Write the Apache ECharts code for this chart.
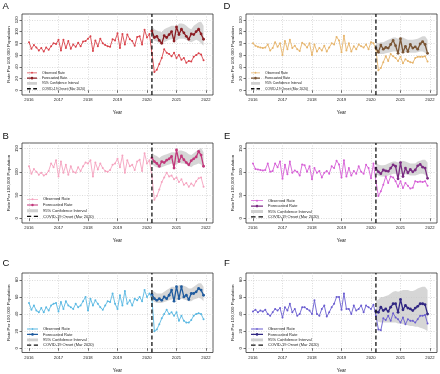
<!DOCTYPE html>
<html><head><meta charset="utf-8">
<script src="https://cdn.jsdelivr.net/npm/echarts@6/dist/echarts.min.js"></script>
<style>html,body{margin:0;padding:0;background:#fff}#c{width:440px;height:374px}</style>
</head><body><div id="c"></div>
<script>
// ---------- data ----------
const yearTicks = [2016, 2017, 2018, 2019, 2020, 2021, 2022];
const startYear = 2016;
const forecastStartIndex = 50; // Mar 2020
const onsetYear = 2020 + 2 / 12;
const legendLabels = ['Observed Rate', 'Forecasted Rate', '95% Confidence Interval', 'COVID-19 Onset (Mar 2020)'];
const yTicks120 = [0, 20, 40, 60, 80, 100, 120];
const yTicks150 = [0, 50, 100, 150];
const yTicks80 = [0, 20, 40, 60, 80];

const obsA = [82,71,77,73,68,72,66,73,69,75,80,79, 86,68,86,72,84,71,78,74,81,75,83,84,
  88,92,67,85,75,88,80,77,75,74,87,85, 97,72,96,78,95,87,84,76,91,92,78,103,
  90,96,63,31,35,45,55,70,64,62,58,64, 55,60,52,55,47,50,49,57,60,63,61,51];
const fcA = [101,90,92,85,80,93,90,95,100,84,108,95,104,98,92,87,96,95,100,104,96,87];
const loA = [90,84,83,80,79,82,84,86,87,86,85,88,88,88,86,83,82,84,86,84,80,76];
const hiA = [110,104,102,100,99,104,106,108,110,110,108,114,114,113,110,106,104,110,113,116,117,110];

const obsB = [112,96,106,100,94,98,92,95,102,118,110,125, 90,122,98,115,94,112,100,98,110,102,112,120,
  118,125,90,120,105,118,108,102,100,104,115,118, 128,110,135,98,125,112,115,104,122,126,102,140,
  118,125,90,40,48,62,78,88,98,90,92,84, 88,78,84,72,76,68,75,70,80,86,88,68];
const fcB = [130,122,118,112,122,120,125,128,133,108,147,122,134,126,120,115,124,128,132,144,136,112];
const loB = [118,112,110,108,110,112,114,116,118,116,115,120,118,118,116,112,110,114,116,118,116,108];
const hiB = [142,136,134,130,134,136,138,140,142,142,140,146,146,144,142,138,136,140,144,148,152,142];

const obsC = [53,45,50,44,42,47,42,48,44,50,52,53, 43,54,46,55,50,48,46,52,48,50,55,60,
  44,58,50,56,52,48,45,50,55,54,64,52, 46,62,50,67,52,56,50,58,56,60,55,68,
  60,64,58,20,22,28,35,40,45,40,42,38, 42,32,38,32,30,30,33,38,40,41,40,34];
const fcC = [63,58,56,58,56,60,58,62,68,55,72,58,72,60,62,57,64,64,66,70,68,62];
const loC = [56,54,53,53,53,54,55,56,57,57,56,58,58,57,56,55,55,57,58,59,58,55];
const hiC = [68,66,64,64,64,66,68,70,72,72,70,74,74,73,72,70,70,72,74,76,76,72];

const obsD = [80,76,74,73,72,73,78,68,72,82,74,80, 60,84,70,86,72,76,70,67,81,78,73,80,
  60,78,66,72,68,76,66,73,80,78,91,85, 65,93,68,80,66,75,70,78,75,73,78,70,
  82,80,70,34,38,48,58,50,62,58,55,50, 57,46,53,50,48,47,55,57,57,57,58,49];
const fcD = [72,65,77,70,73,72,78,85,76,63,88,65,75,66,78,72,74,70,79,83,78,63];
const loD = [64,62,62,62,63,64,65,66,66,65,66,66,65,64,64,64,64,65,66,66,64,60];
const hiD = [82,80,82,82,84,86,88,90,90,88,90,90,88,86,86,86,87,88,90,92,92,86];

const obsE = [118,106,105,104,103,104,118,100,102,118,110,122, 85,115,95,122,98,103,100,92,116,114,100,112,
  84,108,98,102,88,98,102,96,112,108,124,116, 88,125,90,108,92,102,96,112,100,96,115,108,
  86,118,80,48,58,72,90,76,90,88,80,68, 80,65,76,70,64,66,80,78,79,78,80,70];
const fcE = [108,100,96,104,102,101,108,115,112,85,120,90,108,98,105,100,104,113,116,110,108,86];
const loE = [95,92,90,90,90,92,94,96,96,94,95,96,95,94,92,92,92,94,96,96,94,88];
const hiE = [120,116,114,114,115,118,120,122,122,120,122,124,122,120,118,118,118,122,124,126,126,120];

const obsF = [43,45,42,44,43,45,40,38,42,46,44,47, 36,48,44,52,42,46,38,40,48,48,46,44,
  40,56,40,38,46,50,37,42,48,52,60,60, 45,64,46,46,40,50,44,46,50,42,50,48,
  46,51,38,22,21,35,33,38,32,41,36,34, 30,36,28,34,32,32,30,34,38,38,39,29];
const fcF = [43,42,48,44,46,43,48,52,52,42,57,45,50,47,46,44,47,49,52,52,51,40];
const loF = [33,31,30,30,30,30,30,30,30,29,29,28,28,27,26,26,25,25,24,23,22,20];
const hiF = [55,57,60,60,61,62,64,66,67,66,67,68,68,68,67,67,68,70,71,72,72,68];

// ---------- layout / style ----------
const FONT = 'Liberation Sans, Arial, sans-serif';
const bandColor = 'rgba(200,200,200,0.75)';
const panels = [
  {L:'A', grid:{left:22,top:14,width:191,height:81}, yMin:-8, yMax:130, yt:yTicks120, obs:obsA, fc:fcA, lo:loA, hi:hiA,
   c1:'#d9434b', c2:'#8b1e24', title:{left:2.5,top:1.5}, leg:{left:27,top:70.2,w:10,fs:3.4,lh:5.3}},
  {L:'B', grid:{left:22,top:143,width:191,height:80}, yMin:-10, yMax:162, yt:yTicks150, obs:obsB, fc:fcB, lo:loB, hi:hiB,
   c1:'#f5a3bf', c2:'#c2377b', title:{left:2.5,top:131}, leg:{left:27,top:196.5,w:11,fs:4,lh:5.7}},
  {L:'C', grid:{left:22,top:273,width:191,height:80}, yMin:-5, yMax:88, yt:yTicks80, obs:obsC, fc:fcC, lo:loC, hi:hiC,
   c1:'#5ab8e2', c2:'#1f5b9e', title:{left:2.5,top:258.5}, leg:{left:27,top:326.3,w:11,fs:4,lh:5.4}},
  {L:'D', grid:{left:246,top:14,width:191,height:81}, yMin:-8, yMax:130, yt:yTicks120, obs:obsD, fc:fcD, lo:loD, hi:hiD,
   c1:'#e6b46b', c2:'#7a5534', title:{left:223.5,top:1.5}, leg:{left:251,top:70.2,w:9,fs:3.4,lh:5.3}},
  {L:'E', grid:{left:246,top:143,width:191,height:80}, yMin:-10, yMax:162, yt:yTicks150, obs:obsE, fc:fcE, lo:loE, hi:hiE,
   c1:'#d65fd6', c2:'#7b2b82', title:{left:224,top:131.5}, leg:{left:251,top:198,w:12,fs:4,lh:5.4}},
  {L:'F', grid:{left:246,top:273,width:191,height:80}, yMin:-5, yMax:88, yt:yTicks80, obs:obsF, fc:fcF, lo:loF, hi:hiF,
   c1:'#6a5dd0', c2:'#312783', title:{left:224,top:258.5}, leg:{left:251,top:326.3,w:12,fs:4,lh:5.4}}
];

const monthX = i => startYear + i / 12;

// legend icon shapes (drawn in a W x 4 box; corner specks fix the box size)
function boxMarks(W) { return 'M0,0h0.01v0.01h-0.01z M' + W + ',4h-0.01v-0.01h0.01z '; }
function lineDotIcon(W, lw, r) {
  const c = W / 2;
  return 'path://' + boxMarks(W) +
    'M0,' + (2 - lw / 2) + 'h' + W + 'v' + lw + 'h-' + W + 'z ' +
    'M' + (c + r) + ',2 A' + r + ',' + r + ' 0 1,1 ' + (c - r) + ',2 A' + r + ',' + r + ' 0 1,1 ' + (c + r) + ',2z';
}
function dashIcon(W) {
  const d = W * 0.38;
  return 'path://' + boxMarks(W) +
    'M0,1.35h' + d + 'v1.3h-' + d + 'z M' + (W - d) + ',1.35h' + d + 'v1.3h-' + d + 'z';
}
function bandIcon(W) {
  return 'path://' + boxMarks(W) + 'M0,0.6h' + W + 'v2.8h-' + W + 'z';
}

const option = {
  animation: false,
  backgroundColor: '#fff',
  textStyle: {fontFamily: FONT},
  title: [], grid: [], xAxis: [], yAxis: [], legend: [], series: []
};

panels.forEach((p, k) => {
  option.title.push({text: p.L, left: p.title.left, top: p.title.top, padding: 0,
    textStyle: {fontSize: 9.5, fontWeight: 'normal', color: '#111', fontFamily: FONT}});
  option.grid.push(Object.assign({show: true, borderColor: '#333', borderWidth: 0.8, backgroundColor: 'transparent', containLabel: false}, p.grid));
  option.xAxis.push({
    type: 'value', gridIndex: k, min: 2015.763, max: 2022.237,
    axisLine: {show: false},
    axisTick: {show: true, customValues: yearTicks, length: 2.5, lineStyle: {color: '#333', width: 0.7}},
    axisLabel: {customValues: yearTicks, formatter: v => String(Math.round(v)), fontSize: 4.2, color: '#222', margin: 3, fontFamily: FONT},
    splitLine: {show: true, lineStyle: {type: [1, 1.5], color: '#c4c4c4', width: 0.6}},
    name: 'Year', nameLocation: 'middle', nameGap: 15.5,
    nameTextStyle: {fontSize: 4.6, color: '#222', fontFamily: FONT}
  });
  option.yAxis.push({
    type: 'value', gridIndex: k, min: p.yMin, max: p.yMax,
    axisLine: {show: false},
    axisTick: {show: true, customValues: p.yt, length: 2.5, lineStyle: {color: '#333', width: 0.7}},
    axisLabel: {customValues: p.yt, formatter: v => String(Math.round(v)), rotate: 90, fontSize: 4.2, color: '#222', margin: 3, fontFamily: FONT},
    splitLine: {show: true, lineStyle: {type: [1, 1.5], color: '#c4c4c4', width: 0.6}},
    name: 'Rate Per 100,000 Population', nameLocation: 'middle', nameGap: 11.5,
    nameTextStyle: {fontSize: 4.4, color: '#222', fontFamily: FONT}
  });
  const nm = legendLabels.map(s => p.L + '|' + s);
  const bandData = p.fc.map((v, i) => [monthX(forecastStartIndex + i), p.lo[i], p.hi[i]]);
  option.series.push({
    name: nm[2], type: 'custom', xAxisIndex: k, yAxisIndex: k, z: 1, silent: true,
    itemStyle: {color: bandColor},
    data: bandData, encode: {x: 0, y: [1, 2]},
    renderItem: (params, api) => {
      if (params.dataIndex !== 0) return null;
      const top = bandData.map(d => api.coord([d[0], d[2]]));
      const bot = bandData.map(d => api.coord([d[0], d[1]])).reverse();
      return {type: 'polygon', shape: {points: top.concat(bot)}, style: {fill: bandColor}};
    }
  });
  option.series.push({
    name: nm[0], type: 'line', xAxisIndex: k, yAxisIndex: k, z: 3,
    data: p.obs.map((v, i) => [monthX(i), v]),
    symbol: 'circle', symbolSize: 2, showSymbol: true,
    itemStyle: {color: p.c1}, lineStyle: {color: p.c1, width: 0.9}
  });
  option.series.push({
    name: nm[1], type: 'line', xAxisIndex: k, yAxisIndex: k, z: 4,
    data: p.fc.map((v, i) => [monthX(forecastStartIndex + i), v]),
    symbol: 'circle', symbolSize: 2.8, showSymbol: true,
    itemStyle: {color: p.c2}, lineStyle: {color: p.c2, width: 1.3}
  });
  option.series.push({
    name: nm[3], type: 'line', xAxisIndex: k, yAxisIndex: k, z: 5,
    data: [[onsetYear, p.yMin], [onsetYear, p.yMax]],
    symbol: 'none', itemStyle: {color: '#111'},
    lineStyle: {color: '#111', width: 1.3, type: [4, 2.5]}
  });
  const W = p.leg.w;
  option.legend.push({
    orient: 'vertical', left: p.leg.left, top: p.leg.top, padding: 0,
    itemWidth: W, itemHeight: 4, itemGap: 0, selectedMode: false,
    textStyle: {fontSize: p.leg.fs, lineHeight: p.leg.lh, color: '#222', fontFamily: FONT},
    formatter: n => n.split('|')[1],
    data: [
      {name: nm[0], icon: lineDotIcon(W, 0.8, 1), itemStyle: {color: p.c1}},
      {name: nm[1], icon: lineDotIcon(W, 1.1, 1.3), itemStyle: {color: p.c2}},
      {name: nm[2], icon: bandIcon(W), itemStyle: {color: '#d0d0d0'}},
      {name: nm[3], icon: dashIcon(W), itemStyle: {color: '#111'}}
    ]
  });
});

const chart = echarts.init(document.getElementById('c'), null, {renderer: 'canvas', devicePixelRatio: 1});
chart.setOption(option);
</script>
</body></html>
